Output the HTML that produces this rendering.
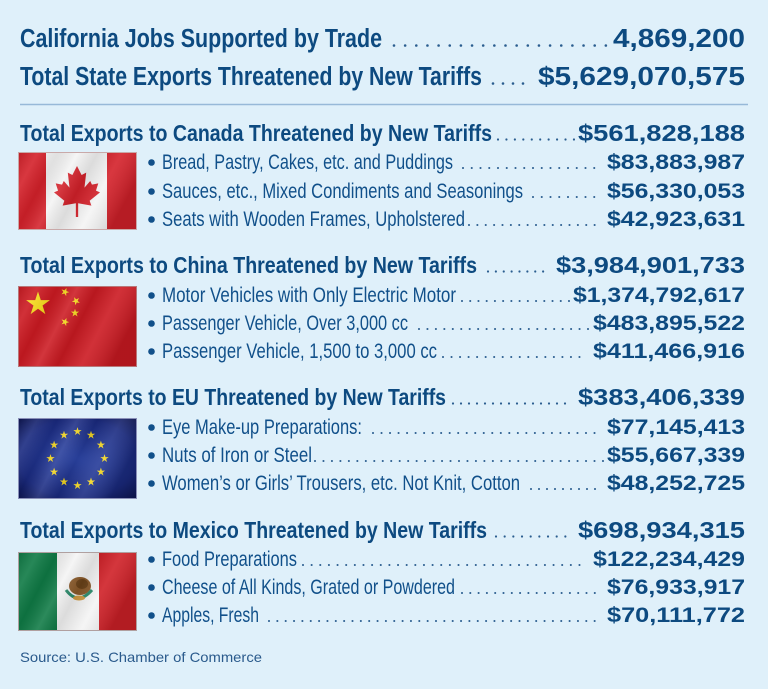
<!DOCTYPE html>
<html>
<head>
<meta charset="utf-8">
<style>
html,body{margin:0;padding:0;background:#dff0fa;}
svg{display:block;}
.h{font-family:"Liberation Sans",sans-serif;font-weight:bold;fill:#0d4a80;}
.i{font-family:"Liberation Sans",sans-serif;font-weight:normal;fill:#11508a;}
.v{font-family:"Liberation Sans",sans-serif;font-weight:bold;fill:#0d4a80;}
.d{stroke:#2a5d8f;stroke-linecap:round;fill:none;}
</style>
</head>
<body>
<svg width="768" height="689" viewBox="0 0 768 689" xmlns="http://www.w3.org/2000/svg">
<defs>
  <polygon id="star" points="0,-1 0.2245,-0.309 0.951,-0.309 0.363,0.118 0.588,0.809 0,0.382 -0.588,0.809 -0.363,0.118 -0.951,-0.309 -0.2245,-0.309"/>
  <linearGradient id="wave" x1="0" y1="0" x2="1" y2="0.35">
    <stop offset="0" stop-color="#000" stop-opacity="0.12"/>
    <stop offset="0.15" stop-color="#fff" stop-opacity="0.10"/>
    <stop offset="0.3" stop-color="#000" stop-opacity="0.08"/>
    <stop offset="0.45" stop-color="#fff" stop-opacity="0.12"/>
    <stop offset="0.6" stop-color="#000" stop-opacity="0.10"/>
    <stop offset="0.78" stop-color="#fff" stop-opacity="0.10"/>
    <stop offset="1" stop-color="#000" stop-opacity="0.14"/>
  </linearGradient>
  <radialGradient id="eu" cx="0.5" cy="0.5" r="0.7">
    <stop offset="0" stop-color="#2c45a8"/>
    <stop offset="0.7" stop-color="#1a2a80"/>
    <stop offset="1" stop-color="#0c1450"/>
  </radialGradient>
</defs>
<rect x="0" y="0" width="768" height="689" fill="#dff0fa"/>

<!-- Top rows -->
<text class="h" x="20" y="47" font-size="25.5" textLength="362" lengthAdjust="spacingAndGlyphs">California Jobs Supported by Trade</text>
<line class="d" x1="394" y1="45.5" x2="606" y2="45.5" stroke-width="2.6" stroke-dasharray="0 11.15"/>
<text class="v" x="613" y="47" font-size="25.5" textLength="132" lengthAdjust="spacingAndGlyphs">4,869,200</text>

<text class="h" x="20" y="85" font-size="25.5" textLength="462" lengthAdjust="spacingAndGlyphs">Total State Exports Threatened by New Tariffs</text>
<line class="d" x1="493" y1="83.5" x2="533" y2="83.5" stroke-width="2.6" stroke-dasharray="0 10"/>
<text class="v" x="538" y="85" font-size="25.5" textLength="207" lengthAdjust="spacingAndGlyphs">$5,629,070,575</text>

<line x1="20" y1="104.5" x2="748" y2="104.5" stroke="#97b9d8" stroke-width="1.6"/>

<!-- Canada -->
<text class="h" x="20" y="141" font-size="23.5" textLength="472" lengthAdjust="spacingAndGlyphs">Total Exports to Canada Threatened by New Tariffs</text>
<line class="d" x1="498" y1="139.5" x2="574" y2="139.5" stroke-width="2.2" stroke-dasharray="0 8.44"/>
<text class="v" x="578" y="141" font-size="23.5" textLength="167" lengthAdjust="spacingAndGlyphs">$561,828,188</text>

<g>
  <rect x="18" y="152" width="119" height="78" fill="#f4f4f4"/>
  <rect x="18" y="152" width="28" height="78" fill="#d4212a"/>
  <rect x="107" y="152" width="30" height="78" fill="#d4212a"/>
  <path transform="translate(48.25,166) scale(0.575,0.6)" fill="#d4212a" d="M50,0 L42,15 L34,11 L37,36 L27,25 L24,31 L13,29 L17,41 L10,44 L28,58 L25,66 L48,62 L48,85 L52,85 L52,62 L75,66 L72,58 L90,44 L83,41 L87,29 L76,31 L73,25 L63,36 L66,11 L58,15 Z"/>
  <rect x="18" y="152" width="119" height="78" fill="url(#wave)"/>
  <rect x="18.5" y="152.5" width="118" height="77" fill="none" stroke="#c9a9a9" stroke-width="1"/>
</g>

<circle cx="151.5" cy="162.5" r="3.3" fill="#11508a"/>
<text class="i" x="162" y="169" font-size="21.5" textLength="291" lengthAdjust="spacingAndGlyphs">Bread, Pastry, Cakes, etc. and Puddings</text>
<line class="d" x1="463" y1="168" x2="603" y2="168" stroke-width="2.1" stroke-dasharray="0 8.75"/>
<text class="v" x="607" y="169" font-size="21.5" textLength="138" lengthAdjust="spacingAndGlyphs">$83,883,987</text>

<circle cx="151.5" cy="191.5" r="3.3" fill="#11508a"/>
<text class="i" x="162" y="198" font-size="21.5" textLength="361" lengthAdjust="spacingAndGlyphs">Sauces, etc., Mixed Condiments and Seasonings</text>
<line class="d" x1="533" y1="197" x2="603" y2="197" stroke-width="2.1" stroke-dasharray="0 8.75"/>
<text class="v" x="607" y="198" font-size="21.5" textLength="138" lengthAdjust="spacingAndGlyphs">$56,330,053</text>

<circle cx="151.5" cy="219.5" r="3.3" fill="#11508a"/>
<text class="i" x="162" y="226" font-size="21.5" textLength="303" lengthAdjust="spacingAndGlyphs">Seats with Wooden Frames, Upholstered</text>
<line class="d" x1="469" y1="225" x2="603" y2="225" stroke-width="2.1" stroke-dasharray="0 8.375"/>
<text class="v" x="607" y="226" font-size="21.5" textLength="138" lengthAdjust="spacingAndGlyphs">$42,923,631</text>

<!-- China -->
<text class="h" x="20" y="273" font-size="23.5" textLength="457" lengthAdjust="spacingAndGlyphs">Total Exports to China Threatened by New Tariffs</text>
<line class="d" x1="488" y1="271.5" x2="551" y2="271.5" stroke-width="2.2" stroke-dasharray="0 7.875"/>
<text class="v" x="556" y="273" font-size="23.5" textLength="189" lengthAdjust="spacingAndGlyphs">$3,984,901,733</text>

<g>
  <rect x="18" y="286" width="119" height="81" fill="#cc1a22"/>
  <use href="#star" transform="translate(38,304) scale(12.5)" fill="#f7dc1e"/>
  <use href="#star" transform="translate(65,292) rotate(20) scale(4.3)" fill="#f7dc1e"/>
  <use href="#star" transform="translate(76,301) rotate(45) scale(4.3)" fill="#f7dc1e"/>
  <use href="#star" transform="translate(75,313) scale(4.3)" fill="#f7dc1e"/>
  <use href="#star" transform="translate(65,322) rotate(20) scale(4.3)" fill="#f7dc1e"/>
  <rect x="18" y="286" width="119" height="81" fill="url(#wave)"/>
  <rect x="18.5" y="286.5" width="118" height="80" fill="none" stroke="#b8787a" stroke-width="1"/>
</g>

<circle cx="151.5" cy="295.5" r="3.3" fill="#11508a"/>
<text class="i" x="162" y="302" font-size="21.5" textLength="294" lengthAdjust="spacingAndGlyphs">Motor Vehicles with Only Electric Motor</text>
<line class="d" x1="462" y1="301" x2="569" y2="301" stroke-width="2.1" stroke-dasharray="0 8.23"/>
<text class="v" x="573" y="302" font-size="21.5" textLength="172" lengthAdjust="spacingAndGlyphs">$1,374,792,617</text>

<circle cx="151.5" cy="323.5" r="3.3" fill="#11508a"/>
<text class="i" x="162" y="330" font-size="21.5" textLength="246" lengthAdjust="spacingAndGlyphs">Passenger Vehicle, Over 3,000 cc</text>
<line class="d" x1="419" y1="329" x2="588" y2="329" stroke-width="2.1" stroke-dasharray="0 8.45"/>
<text class="v" x="593" y="330" font-size="21.5" textLength="152" lengthAdjust="spacingAndGlyphs">$483,895,522</text>

<circle cx="151.5" cy="351.5" r="3.3" fill="#11508a"/>
<text class="i" x="162" y="358" font-size="21.5" textLength="275" lengthAdjust="spacingAndGlyphs">Passenger Vehicle, 1,500 to 3,000 cc</text>
<line class="d" x1="443" y1="357" x2="588" y2="357" stroke-width="2.1" stroke-dasharray="0 8.53"/>
<text class="v" x="593" y="358" font-size="21.5" textLength="152" lengthAdjust="spacingAndGlyphs">$411,466,916</text>

<!-- EU -->
<text class="h" x="20" y="405" font-size="23.5" textLength="426" lengthAdjust="spacingAndGlyphs">Total Exports to EU Threatened by New Tariffs</text>
<line class="d" x1="453" y1="403.5" x2="573" y2="403.5" stroke-width="2.2" stroke-dasharray="0 8"/>
<text class="v" x="578" y="405" font-size="23.5" textLength="167" lengthAdjust="spacingAndGlyphs">$383,406,339</text>

<g>
  <rect x="18" y="418" width="119" height="81" fill="url(#eu)"/>
  <g fill="#f5d823">
    <use href="#star" transform="translate(77.5,431.5) scale(4.4)"/>
    <use href="#star" transform="translate(91,435.1) scale(4.4)"/>
    <use href="#star" transform="translate(100.9,445) scale(4.4)"/>
    <use href="#star" transform="translate(104.5,458.5) scale(4.4)"/>
    <use href="#star" transform="translate(100.9,472) scale(4.4)"/>
    <use href="#star" transform="translate(91,481.9) scale(4.4)"/>
    <use href="#star" transform="translate(77.5,485.5) scale(4.4)"/>
    <use href="#star" transform="translate(64,481.9) scale(4.4)"/>
    <use href="#star" transform="translate(54.1,472) scale(4.4)"/>
    <use href="#star" transform="translate(50.5,458.5) scale(4.4)"/>
    <use href="#star" transform="translate(54.1,445) scale(4.4)"/>
    <use href="#star" transform="translate(64,435.1) scale(4.4)"/>
  </g>
  <rect x="18" y="418" width="119" height="81" fill="url(#wave)"/>
  <rect x="18.5" y="418.5" width="118" height="80" fill="none" stroke="#8a90b8" stroke-width="1"/>
</g>

<circle cx="151.5" cy="427.5" r="3.3" fill="#11508a"/>
<text class="i" x="162" y="434" font-size="21.5" textLength="200" lengthAdjust="spacingAndGlyphs">Eye Make-up Preparations:</text>
<line class="d" x1="373" y1="433" x2="603" y2="433" stroke-width="2.1" stroke-dasharray="0 8.52"/>
<text class="v" x="607" y="434" font-size="21.5" textLength="138" lengthAdjust="spacingAndGlyphs">$77,145,413</text>

<circle cx="151.5" cy="455.5" r="3.3" fill="#11508a"/>
<text class="i" x="162" y="462" font-size="21.5" textLength="150" lengthAdjust="spacingAndGlyphs">Nuts of Iron or Steel</text>
<line class="d" x1="315" y1="461" x2="603" y2="461" stroke-width="2.1" stroke-dasharray="0 8.47"/>
<text class="v" x="607" y="462" font-size="21.5" textLength="138" lengthAdjust="spacingAndGlyphs">$55,667,339</text>

<circle cx="151.5" cy="483.5" r="3.3" fill="#11508a"/>
<text class="i" x="162" y="490" font-size="21.5" textLength="358" lengthAdjust="spacingAndGlyphs">Women’s or Girls’ Trousers, etc. Not Knit, Cotton</text>
<line class="d" x1="531" y1="489" x2="603" y2="489" stroke-width="2.1" stroke-dasharray="0 8"/>
<text class="v" x="607" y="490" font-size="21.5" textLength="138" lengthAdjust="spacingAndGlyphs">$48,252,725</text>

<!-- Mexico -->
<text class="h" x="20" y="538" font-size="23.5" textLength="467" lengthAdjust="spacingAndGlyphs">Total Exports to Mexico Threatened by New Tariffs</text>
<line class="d" x1="496" y1="536.5" x2="574" y2="536.5" stroke-width="2.2" stroke-dasharray="0 8.67"/>
<text class="v" x="578" y="538" font-size="23.5" textLength="167" lengthAdjust="spacingAndGlyphs">$698,934,315</text>

<g>
  <rect x="18" y="552" width="39" height="79" fill="#0f7a45"/>
  <rect x="57" y="552" width="42" height="79" fill="#f4f4f4"/>
  <rect x="99" y="552" width="38" height="79" fill="#cf2027"/>
  <ellipse cx="80" cy="586" rx="11" ry="9" fill="#8a5a2a"/>
  <ellipse cx="82" cy="584" rx="6" ry="5" fill="#6a4218"/>
  <path d="M66,590 Q78,606 92,590" fill="none" stroke="#2a8a6a" stroke-width="3"/>
  <ellipse cx="79" cy="598" rx="6" ry="2.5" fill="#d09a40"/>
  <rect x="18" y="552" width="119" height="79" fill="url(#wave)"/>
  <rect x="18.5" y="552.5" width="118" height="78" fill="none" stroke="#b0a0a0" stroke-width="1"/>
</g>

<circle cx="151.5" cy="559.5" r="3.3" fill="#11508a"/>
<text class="i" x="162" y="566" font-size="21.5" textLength="135" lengthAdjust="spacingAndGlyphs">Food Preparations</text>
<line class="d" x1="303" y1="565" x2="588" y2="565" stroke-width="2.1" stroke-dasharray="0 8.64"/>
<text class="v" x="593" y="566" font-size="21.5" textLength="152" lengthAdjust="spacingAndGlyphs">$122,234,429</text>

<circle cx="151.5" cy="587.5" r="3.3" fill="#11508a"/>
<text class="i" x="162" y="594" font-size="21.5" textLength="293" lengthAdjust="spacingAndGlyphs">Cheese of All Kinds, Grated or Powdered</text>
<line class="d" x1="462" y1="593" x2="603" y2="593" stroke-width="2.1" stroke-dasharray="0 8.3"/>
<text class="v" x="607" y="594" font-size="21.5" textLength="138" lengthAdjust="spacingAndGlyphs">$76,933,917</text>

<circle cx="151.5" cy="615.5" r="3.3" fill="#11508a"/>
<text class="i" x="162" y="622" font-size="21.5" textLength="97" lengthAdjust="spacingAndGlyphs">Apples, Fresh</text>
<line class="d" x1="269" y1="621" x2="603" y2="621" stroke-width="2.1" stroke-dasharray="0 8.35"/>
<text class="v" x="607" y="622" font-size="21.5" textLength="138" lengthAdjust="spacingAndGlyphs">$70,111,772</text>

<!-- Source -->
<text x="20" y="662" font-family="Liberation Sans, sans-serif" font-size="14" fill="#2a5a8c" textLength="242" lengthAdjust="spacingAndGlyphs">Source: U.S. Chamber of Commerce</text>
</svg>
</body>
</html>
